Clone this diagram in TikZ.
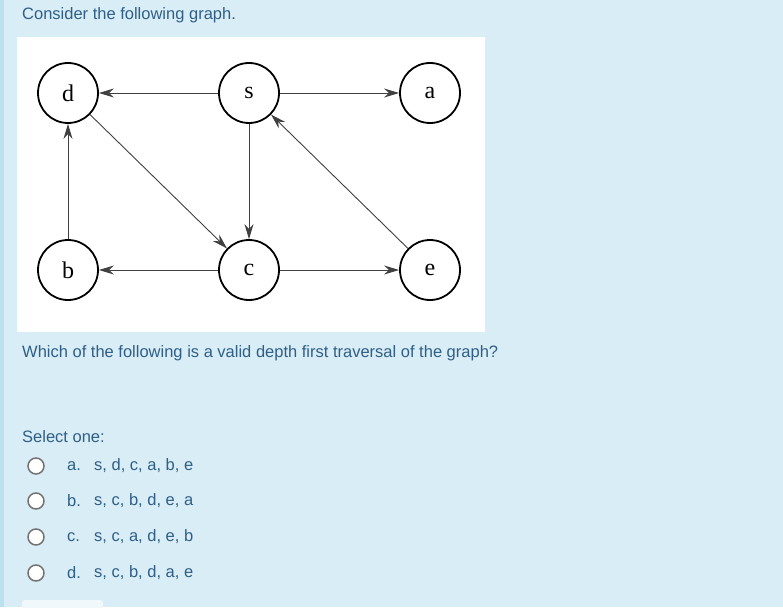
\documentclass[tikz,border=0pt]{standalone}
\usepackage{fontspec}
\setmainfont{Liberation Sans}
\newfontfamily\serifg{Liberation Serif}
\usetikzlibrary{arrows.meta}
\definecolor{bg}{HTML}{D9EDF7}
\definecolor{txt}{HTML}{2F5F86}
\definecolor{brd}{HTML}{BCE0EF}
\tikzset{
  gnode/.style={circle,draw=black,line width=1.8pt,fill=white,minimum size=60pt,inner sep=0pt,font=\serifg\fontsize{24}{24}\selectfont},
  gedge/.style={draw=black!75,line width=0.9pt,-{Stealth[length=15pt,width=9pt]}},
  qtext/.style={anchor=west,text=txt,font=\fontsize{16.5}{18}\selectfont,inner sep=0pt},
  radio/.style={circle,draw=gray!90!black,line width=1.5pt,fill=white,minimum size=16pt,inner sep=0pt}
}
\begin{document}
\begin{tikzpicture}[x=1pt,y=-1pt]
\useasboundingbox (0,0) rectangle (783,607);
\fill[bg] (0,0) rectangle (783,607);
\fill[brd] (0,0) rectangle (4,607);
\fill[white] (17,37) rectangle (485,332);
\node[qtext] (t1) at (22,15) {Consider the following graph.};
\node[gnode] (d) at (68,93) {d};
\node[gnode] (s) at (249,93) {s};
\node[gnode] (a) at (430,93) {a};
\node[gnode] (b) at (68,270) {b};
\node[gnode] (c) at (249,270) {c};
\node[gnode] (e) at (430,270) {e};
\draw[gedge] (s) -- (d);
\draw[gedge] (s) -- (a);
\draw[gedge] (s) -- (c);
\draw[gedge] (d) -- (c);
\draw[gedge] (e) -- (s);
\draw[gedge] (b) -- (d);
\draw[gedge] (c) -- (b);
\draw[gedge] (c) -- (e);
\node[qtext] (q) at (22,353) {Which of the following is a valid depth first traversal of the graph?};
\node[qtext] (sel) at (22,437) {Select one:};
\foreach \y/\l/\t [count=\i] in {466/a./{s, d, c, a, b, e},501/b./{s, c, b, d, e, a},537/c./{s, c, a, d, e, b},573/d./{s, c, b, d, a, e}}{
  \node[radio] (r\i) at (36,\y) {};
  \node[qtext] (l\i) at (67,\y) {\l};
  \node[qtext] (o\i) at (94,\y) {\t};
}
\fill[white!60!bg, rounded corners=3pt] (22,600) rectangle (103,612);
\end{tikzpicture}
\end{document}
